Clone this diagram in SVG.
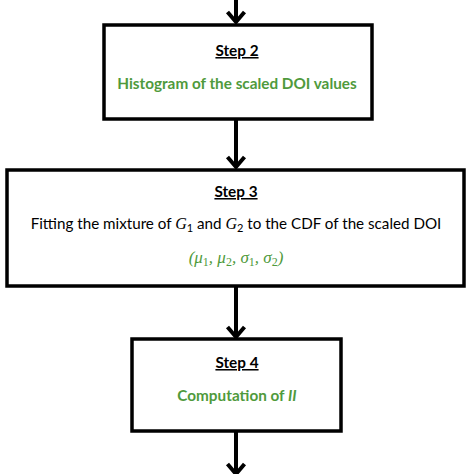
<svg xmlns="http://www.w3.org/2000/svg" width="474" height="474" viewBox="0 0 474 474">
<style>
.box{fill:#fff;stroke:#000;stroke-width:3.5}
.conn{stroke:#000;stroke-width:4;fill:none}
.head{stroke:#000;stroke-width:4;fill:none;stroke-linecap:butt;stroke-linejoin:miter}
.step{font-family:Lato,"Open Sans","Liberation Sans",sans-serif;font-weight:bold;font-size:15.3px;text-anchor:middle;text-decoration:underline;fill:#000}
.green{font-family:Lato,"Open Sans","Liberation Sans",sans-serif;font-weight:bold;font-size:15.3px;text-anchor:middle;fill:#4f9a3c}
.body{font-family:Lato,"Open Sans","Liberation Sans",sans-serif;font-size:15.2px;text-anchor:middle;fill:#000}
.math{font-family:"Liberation Serif","DejaVu Serif",serif;font-style:italic}
.params{font-family:"Liberation Serif","DejaVu Serif",serif;font-style:italic;font-size:17px;text-anchor:middle;fill:#4f9a3c}
</style>
<rect width="474" height="474" fill="#fff"/>
<g id="connectors">
<line class="conn" x1="236" y1="0" x2="236" y2="22"/>
<path class="head" d="M227.5,12 L236,22 L244.5,12"/>
<line class="conn" x1="236" y1="119" x2="236" y2="167"/>
<path class="head" d="M227.5,157 L236,167 L244.5,157"/>
<line class="conn" x1="236" y1="287" x2="236" y2="337"/>
<path class="head" d="M227.5,327 L236,337 L244.5,327"/>
<line class="conn" x1="236" y1="431" x2="236" y2="474"/>
<path class="head" d="M227.5,464 L236,474 L244.5,464"/>
</g>
<g id="step2">
<rect class="box" x="104" y="25" width="268" height="94"/>
<text class="step" x="237" y="56">Step 2</text>
<text class="green" x="237" y="89">Histogram of the scaled DOI values</text>
</g>
<g id="step3">
<rect class="box" x="7" y="170" width="457" height="116"/>
<text class="step" x="236" y="197">Step 3</text>
<text class="body" x="236" y="229">Fitting the mixture of <tspan class="math" font-size="16">G</tspan><tspan font-size="11" dy="3">1</tspan><tspan dy="-3"> and </tspan><tspan class="math" font-size="16">G</tspan><tspan font-size="11" dy="3">2</tspan><tspan dy="-3"> to the CDF of the scaled DOI</tspan></text>
<text class="params" x="236" y="263">(μ<tspan font-size="12" font-style="normal" dy="3">1</tspan><tspan dy="-3">, μ</tspan><tspan font-size="12" font-style="normal" dy="3">2</tspan><tspan dy="-3">, σ</tspan><tspan font-size="12" font-style="normal" dy="3">1</tspan><tspan dy="-3">, σ</tspan><tspan font-size="12" font-style="normal" dy="3">2</tspan><tspan dy="-3">)</tspan></text>
</g>
<g id="step4">
<rect class="box" x="132" y="339" width="209" height="92"/>
<text class="step" x="237" y="368">Step 4</text>
<text class="green" x="237" y="401">Computation of <tspan font-style="italic">II</tspan></text>
</g>
</svg>
